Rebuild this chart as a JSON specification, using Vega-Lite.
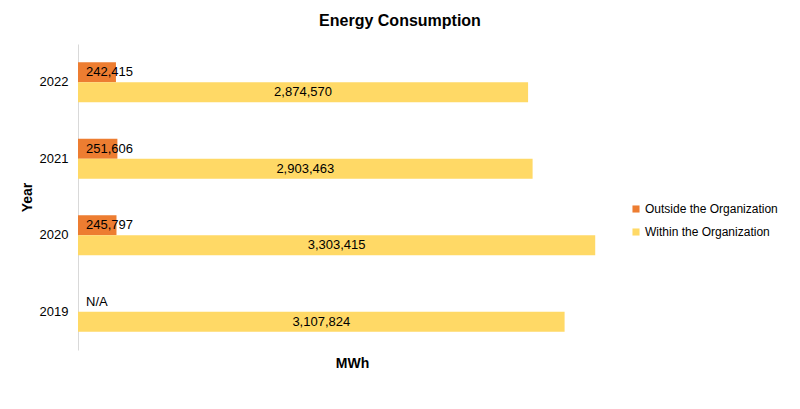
{
  "$schema": "https://vega.github.io/schema/vega-lite/v6.json",
  "width": 548,
  "height": 306,
  "autosize": {"type": "none"},
  "padding": {"left": 78, "top": 44, "right": 174, "bottom": 59},
  "background": "white",
  "title": {
    "text": "Energy Consumption",
    "anchor": "middle",
    "frame": "group",
    "dx": 48,
    "fontSize": 16,
    "font": "Liberation Sans",
    "fontWeight": "bold",
    "color": "#000000",
    "offset": 15
  },
  "config": {
    "view": {"stroke": null},
    "font": "Liberation Sans"
  },
  "data": {
    "values": [
      {"Year": "2022", "Series": "Outside the Organization", "Value": 242415, "Label": "242,415"},
      {"Year": "2022", "Series": "Within the Organization", "Value": 2874570, "Label": "2,874,570"},
      {"Year": "2021", "Series": "Outside the Organization", "Value": 251606, "Label": "251,606"},
      {"Year": "2021", "Series": "Within the Organization", "Value": 2903463, "Label": "2,903,463"},
      {"Year": "2020", "Series": "Outside the Organization", "Value": 245797, "Label": "245,797"},
      {"Year": "2020", "Series": "Within the Organization", "Value": 3303415, "Label": "3,303,415"},
      {"Year": "2019", "Series": "Outside the Organization", "Value": null, "Label": "N/A"},
      {"Year": "2019", "Series": "Within the Organization", "Value": 3107824, "Label": "3,107,824"}
    ]
  },
  "encoding": {
    "y": {
      "field": "Year",
      "type": "nominal",
      "sort": "descending",
      "scale": {"paddingInner": 0.48, "paddingOuter": 0.24},
      "axis": {
        "title": "Year",
        "titleFontSize": 14,
        "titleFontWeight": "bold",
        "titleColor": "#000000",
        "titlePadding": 5,
        "labelFontSize": 13,
        "labelColor": "#000000",
        "labelPadding": 10,
        "ticks": false,
        "domainColor": "#d9d9d9",
        "domainWidth": 1
      }
    },
    "yOffset": {
      "field": "Series",
      "type": "nominal",
      "sort": ["Outside the Organization", "Within the Organization"],
      "scale": {"paddingInner": 0, "paddingOuter": 0}
    }
  },
  "layer": [
    {
      "mark": {"type": "bar"},
      "encoding": {
        "x": {
          "field": "Value",
          "type": "quantitative",
          "scale": {"domain": [0, 3500000], "nice": false},
          "axis": {
            "title": "MWh",
            "titleFontSize": 14,
            "titleFontWeight": "bold",
            "titleColor": "#000000",
            "titlePadding": 6,
            "labels": false,
            "ticks": false,
            "domain": false,
            "grid": false
          }
        },
        "color": {
          "field": "Series",
          "type": "nominal",
          "scale": {
            "domain": ["Outside the Organization", "Within the Organization"],
            "range": ["#ED7D31", "#FFD966"]
          },
          "legend": {
            "title": null,
            "orient": "none",
            "legendX": 552,
            "legendY": 159,
            "symbolType": "square",
            "symbolSize": 50,
            "symbolStrokeWidth": 0,
            "labelFontSize": 12,
            "labelColor": "#000000",
            "labelOffset": 3,
            "rowPadding": 11
          }
        }
      }
    },
    {
      "transform": [{"filter": "datum.Series === 'Outside the Organization'"}],
      "mark": {"type": "text", "align": "left", "baseline": "middle", "dx": 8, "fontSize": 13, "color": "#000000"},
      "encoding": {
        "x": {"datum": 0, "type": "quantitative"},
        "text": {"field": "Label"}
      }
    },
    {
      "transform": [
        {"filter": "datum.Series === 'Within the Organization'"},
        {"calculate": "datum.Value / 2", "as": "LabelPos"}
      ],
      "mark": {"type": "text", "align": "center", "baseline": "middle", "fontSize": 13, "color": "#000000"},
      "encoding": {
        "x": {"field": "LabelPos", "type": "quantitative"},
        "text": {"field": "Label"}
      }
    }
  ]
}
